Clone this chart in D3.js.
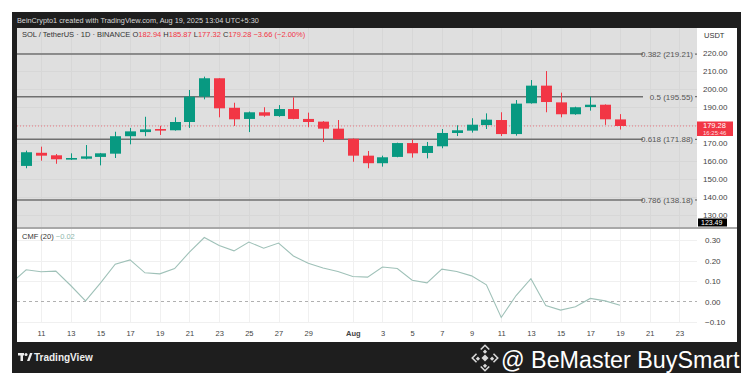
<!DOCTYPE html>
<html>
<head>
<meta charset="utf-8">
<script src="https://cdn.jsdelivr.net/npm/d3@7"></script>
<style>
  html, body { margin: 0; padding: 0; background: #fff; }
  svg { display: block; font-family: "Liberation Sans", Arial, sans-serif; }
</style>
</head>
<body>
<svg id="chart" width="752" height="386"></svg>
<script>
// ── Data ─────────────────────────────────────────────────────────────────────
// Daily SOL/USDT candles, Jul 10 → Aug 19 2025
const candleDates = d3.utcDays(new Date(Date.UTC(2025, 6, 10)), new Date(Date.UTC(2025, 7, 20)));
const opens  = [157.1, 164.4, 163.0, 160.6, 161.1, 162.1, 163.9, 173.6, 175.9, 177.6, 176.9, 181.5, 195.6, 205.8, 189.4, 183.2, 186.9, 184.8, 188.7, 183.2, 181.7, 177.8, 172.2, 162.8, 158.6, 162.1, 169.8, 164.3, 168.0, 175.4, 176.7, 179.8, 182.6, 174.8, 191.9, 201.7, 192.4, 185.8, 189.8, 191.1, 182.94];
const highs  = [165.6, 167.8, 163.7, 164.1, 168.7, 164.3, 176.1, 178.2, 184.4, 179.4, 184.1, 199.3, 206.7, 205.8, 192.2, 187.3, 189.7, 190.9, 195.2, 186.7, 182.0, 182.6, 172.4, 165.4, 162.8, 170.0, 171.7, 170.4, 177.6, 179.7, 183.6, 186.3, 186.9, 193.7, 204.8, 209.8, 197.8, 190.0, 195.6, 191.3, 185.87];
const lows   = [155.8, 160.0, 158.3, 160.4, 160.8, 157.4, 161.5, 169.1, 173.6, 174.3, 176.7, 178.2, 194.1, 184.1, 179.3, 175.9, 184.4, 184.4, 183.0, 178.6, 170.4, 171.9, 159.4, 155.8, 156.7, 161.9, 161.7, 161.3, 166.9, 173.7, 175.6, 177.6, 173.7, 173.9, 191.7, 186.9, 184.1, 185.5, 187.8, 179.9, 177.32];
const closes = [164.7, 162.8, 160.8, 161.5, 162.4, 164.1, 173.6, 176.3, 177.4, 176.7, 181.5, 195.6, 205.8, 189.1, 183.0, 186.9, 185.0, 188.7, 183.2, 181.5, 177.8, 171.9, 162.8, 158.6, 161.9, 169.8, 164.1, 168.2, 175.4, 176.9, 180.0, 182.8, 174.8, 191.7, 201.7, 192.6, 185.8, 189.7, 191.1, 183.0, 179.28];

// Chaikin Money Flow (20), Jul 9 → Aug 19
const cmfDates = d3.utcDays(new Date(Date.UTC(2025, 6, 9)), new Date(Date.UTC(2025, 7, 20)));
const cmfValues = [0.09, 0.155, 0.145, 0.148, 0.078, 0.003, 0.09, 0.182, 0.203, 0.14, 0.135, 0.161, 0.241, 0.312, 0.273, 0.247, 0.29, 0.26, 0.285, 0.222, 0.187, 0.163, 0.146, 0.122, 0.119, 0.168, 0.161, 0.104, 0.091, 0.158, 0.146, 0.125, 0.081, -0.078, 0.029, 0.111, -0.02, -0.042, -0.026, 0.015, 0.003, -0.018];

// Fibonacci retracement levels
const fibRatios = ["0.382", "0.5", "0.618", "0.786"];
const fibPrices = [219.21, 195.55, 171.88, 138.18];

// Axis ticks
const priceTicks = [130, 140, 150, 160, 170, 180, 190, 200, 210, 220];
const cmfTicks = [-0.1, 0, 0.1, 0.2, 0.3];
const timeTickDates = [
  [6, 11], [6, 13], [6, 15], [6, 17], [6, 19], [6, 21], [6, 23], [6, 25], [6, 27], [6, 29],
  [7, 1], [7, 3], [7, 5], [7, 7], [7, 9], [7, 11], [7, 13], [7, 15], [7, 17], [7, 19], [7, 21], [7, 23]
].map(([m, d]) => new Date(Date.UTC(2025, m, d)));
const timeTickLabels = ["11", "13", "15", "17", "19", "21", "23", "25", "27", "29", "Aug", "3", "5", "7", "9", "11", "13", "15", "17", "19", "21", "23"];

const lastPrice = 179.28;

// ── Layout ───────────────────────────────────────────────────────────────────
const UP = '#089981', DOWN = '#f23645';
const plotL = 17, plotR = 697, axisR = 737;
const mainT = 28, mainB = 227;
const cmfT = 229, cmfB = 323;

const svg = d3.select('#chart');

const x = d3.scaleUtc()
  .domain([new Date(Date.UTC(2025, 6, 11)), new Date(Date.UTC(2025, 7, 19))])
  .range([41, 620]);
const y = d3.scaleLinear().domain([130, 220]).range([214.7, 52.7]);
const yc = d3.scaleLinear().domain([-0.1, 0.3]).range([322, 240]);

// frame
svg.append('rect').attr('x', 12).attr('y', 12).attr('width', 729).attr('height', 361).attr('fill', '#1e1e1e');
svg.append('rect').attr('x', plotL).attr('y', mainT).attr('width', axisR - plotL).attr('height', 342 - mainT).attr('fill', '#fff');
svg.append('rect').attr('x', plotL).attr('y', mainT).attr('width', plotR - plotL).attr('height', mainB - mainT).attr('fill', '#dfdfdf');

svg.append('text').attr('x', 17).attr('y', 23).attr('font-size', 7.3).attr('fill', '#d8d8d8')
  .text('BeinCrypto1 created with TradingView.com, Aug 19, 2025 13:04 UTC+5:30');

const defs = svg.append('defs');
defs.append('clipPath').attr('id', 'clipMain').append('rect')
  .attr('x', plotL).attr('y', mainT).attr('width', plotR - plotL).attr('height', mainB - mainT);
defs.append('clipPath').attr('id', 'clipCmf').append('rect')
  .attr('x', plotL).attr('y', cmfT).attr('width', plotR - plotL).attr('height', cmfB - cmfT);
defs.append('clipPath').attr('id', 'clipFrame').append('rect')
  .attr('x', 12).attr('y', 12).attr('width', 729).attr('height', 361);

// ── Grid ─────────────────────────────────────────────────────────────────────
const grid = svg.append('g');
grid.selectAll('.vg').data(timeTickDates).join('line')
  .attr('x1', (d) => Math.round(x(d)) + 0.5).attr('x2', (d) => Math.round(x(d)) + 0.5)
  .attr('y1', mainT).attr('y2', mainB).attr('stroke', '#d7d7d7').attr('stroke-width', 1);
grid.selectAll('.vg2').data(timeTickDates).join('line')
  .attr('x1', (d) => Math.round(x(d)) + 0.5).attr('x2', (d) => Math.round(x(d)) + 0.5)
  .attr('y1', cmfT).attr('y2', cmfB).attr('stroke', '#f0f0f0').attr('stroke-width', 1);
grid.selectAll('.hg').data(priceTicks).join('line')
  .attr('x1', plotL).attr('x2', plotR)
  .attr('y1', (d) => Math.round(y(d)) + 0.5).attr('y2', (d) => Math.round(y(d)) + 0.5)
  .attr('stroke', '#d7d7d7');
grid.selectAll('.hg2').data(cmfTicks.filter((d) => d !== 0)).join('line')
  .attr('x1', plotL).attr('x2', plotR)
  .attr('y1', (d) => Math.round(yc(d)) + 0.5).attr('y2', (d) => Math.round(yc(d)) + 0.5)
  .attr('stroke', '#f0f0f0');

// ── Fibonacci levels ─────────────────────────────────────────────────────────
const fib = svg.append('g').attr('clip-path', 'url(#clipMain)');
fibPrices.forEach((p, i) => {
  fib.append('line').attr('x1', plotL).attr('x2', 643)
    .attr('y1', y(p)).attr('y2', y(p)).attr('stroke', '#707070').attr('stroke-width', 1.5);
  fib.append('text').attr('x', 693).attr('y', y(p) + 3).attr('text-anchor', 'end')
    .attr('font-size', 8).attr('fill', '#555')
    .text(`${fibRatios[i]} (${p.toFixed(2)})`);
  fib.append('line').attr('x1', 695).attr('x2', 697).attr('y1', y(p)).attr('y2', y(p)).attr('stroke', '#555');
});

// last price line
svg.append('line').attr('x1', plotL).attr('x2', plotR)
  .attr('y1', y(lastPrice)).attr('y2', y(lastPrice))
  .attr('stroke', DOWN).attr('stroke-opacity', 0.6).attr('stroke-dasharray', '1,2');

// ── Candles ──────────────────────────────────────────────────────────────────
const candles = candleDates.map((d, i) => ({ d, o: opens[i], h: highs[i], l: lows[i], c: closes[i] }));
const cg = svg.append('g').attr('clip-path', 'url(#clipMain)');
const bw = 11;
cg.selectAll('.wick').data(candles).join('line')
  .attr('x1', (d) => Math.round(x(d.d)) + 0.5).attr('x2', (d) => Math.round(x(d.d)) + 0.5)
  .attr('y1', (d) => y(d.h)).attr('y2', (d) => y(d.l))
  .attr('stroke', (d) => (d.c >= d.o ? UP : DOWN)).attr('stroke-width', 1);
cg.selectAll('.body').data(candles).join('rect')
  .attr('x', (d) => Math.round(x(d.d)) + 0.5 - bw / 2)
  .attr('width', bw)
  .attr('y', (d) => y(Math.max(d.o, d.c)))
  .attr('height', (d) => Math.max(1, Math.abs(y(d.o) - y(d.c))))
  .attr('fill', (d) => (d.c >= d.o ? UP : DOWN));

// legend
const leg = svg.append('text').attr('x', 22).attr('y', 37).attr('font-size', 7.5).attr('fill', '#333');
leg.append('tspan').text('SOL / TetherUS · 1D · BINANCE  ');
[['O', opens], ['H', highs], ['L', lows], ['C', closes]].forEach(([k, arr]) => {
  leg.append('tspan').text(k);
  leg.append('tspan').attr('fill', DOWN).text(arr[arr.length - 1].toFixed(2) + '  ');
});
leg.append('tspan').attr('fill', DOWN).text('−3.66 (−2.00%)');

// ── Price axis ───────────────────────────────────────────────────────────────
const pa = svg.append('g').attr('transform', `translate(${plotR},0)`)
  .call(d3.axisRight(y).tickValues(priceTicks).tickFormat((d) => d.toFixed(2)).tickSize(0).tickPadding(6));
pa.select('.domain').remove();
pa.selectAll('text').attr('font-size', 8).attr('fill', '#444').attr('font-family', null);
svg.append('text').attr('x', 704).attr('y', 38).attr('font-size', 7.5).attr('fill', '#333').text('USDT');

// last price tag
svg.append('rect').attr('x', plotR).attr('y', y(lastPrice) - 4.5).attr('width', 36).attr('height', 14.5).attr('fill', DOWN);
svg.append('text').attr('x', 703).attr('y', y(lastPrice) + 2.5).attr('font-size', 7.5).attr('fill', '#fff').text(lastPrice.toFixed(2));
svg.append('text').attr('x', 703).attr('y', y(lastPrice) + 9).attr('font-size', 6).attr('fill', '#fff').attr('fill-opacity', 0.85).text('16:25:46');

// bottom-of-pane tag
svg.append('rect').attr('x', 698).attr('y', 218.5).attr('width', 29).attr('height', 8).attr('fill', '#000');
svg.append('text').attr('x', 701).attr('y', 225.2).attr('font-size', 7).attr('fill', '#fff').text('123.49');

// pane divider
svg.append('line').attr('x1', plotL).attr('x2', axisR).attr('y1', 228).attr('y2', 228).attr('stroke', '#a8a8a8').attr('stroke-width', 2);

// ── CMF pane ─────────────────────────────────────────────────────────────────
svg.append('line').attr('x1', plotL).attr('x2', plotR).attr('y1', yc(0)).attr('y2', yc(0))
  .attr('stroke', '#b0b0b0').attr('stroke-dasharray', '3,3');
const cmf = cmfDates.map((d, i) => ({ d, v: cmfValues[i] }));
svg.append('g').attr('clip-path', 'url(#clipCmf)').append('path').datum(cmf)
  .attr('fill', 'none').attr('stroke', '#9fc1b8').attr('stroke-width', 1.1)
  .attr('d', d3.line().x((d) => x(d.d)).y((d) => yc(d.v)));

const ca = svg.append('g').attr('transform', `translate(${plotR},0)`)
  .call(d3.axisRight(yc).tickValues(cmfTicks).tickFormat((d) => (d < 0 ? '−' : '') + Math.abs(d).toFixed(2)).tickSize(0).tickPadding(8));
ca.select('.domain').remove();
ca.selectAll('text').attr('font-size', 8).attr('fill', '#444').attr('font-family', null);

const cl = svg.append('text').attr('x', 22).attr('y', 239).attr('font-size', 7.5).attr('fill', '#333');
cl.append('tspan').text('CMF (20)  ');
cl.append('tspan').attr('fill', '#8fb7ad').text('−' + Math.abs(cmfValues[cmfValues.length - 1]).toFixed(2));

// ── Time axis ────────────────────────────────────────────────────────────────
const ta = svg.append('g').attr('transform', `translate(0,${cmfB})`)
  .call(d3.axisBottom(x).tickValues(timeTickDates).tickFormat((d, i) => timeTickLabels[i]).tickSize(0).tickPadding(8));
ta.select('.domain').remove();
ta.selectAll('text').attr('font-size', 7.5).attr('fill', '#444').attr('font-family', null)
  .attr('font-weight', (d, i) => (timeTickLabels[i] === 'Aug' ? 'bold' : null));

// ── Footer ───────────────────────────────────────────────────────────────────
const tv = svg.append('g').attr('fill', '#eee');
tv.append('rect').attr('x', 18).attr('y', 353).attr('width', 6).attr('height', 2.5);
tv.append('rect').attr('x', 20.5).attr('y', 353).attr('width', 2.5).attr('height', 8);
tv.append('circle').attr('cx', 26).attr('cy', 354.5).attr('r', 1.5);
tv.append('path').attr('d', 'M27,361 L30,353 L32.5,353 L29.5,361 Z');
svg.append('text').attr('x', 34).attr('y', 361).attr('font-size', 10).attr('font-weight', 'bold')
  .attr('fill', '#eee').text('TradingView');

const bn = svg.append('g').attr('fill', '#d9d9d9').attr('transform', 'translate(485,358) rotate(45)');
bn.append('rect').attr('x', -2.5).attr('y', -2.5).attr('width', 5).attr('height', 5);
[[-7, -7], [3, -7], [-7, 3], [3, 3]].forEach(([a, b]) => {
  bn.append('rect').attr('x', a + 1).attr('y', b + 1).attr('width', 3).attr('height', 3);
});
bn.append('path').attr('fill', 'none').attr('stroke', '#d9d9d9').attr('stroke-width', 1.6)
  .attr('d', 'M-9,-3 L-9,-9 L-3,-9 M3,-9 L9,-9 L9,-3 M9,3 L9,9 L3,9 M-3,9 L-9,9 L-9,3');
svg.append('g').attr('clip-path', 'url(#clipFrame)')
  .append('text').attr('x', 501).attr('y', 368).attr('font-size', 23.3)
  .attr('fill', '#fff').text('@ BeMaster BuySmart');
</script>
</body>
</html>
